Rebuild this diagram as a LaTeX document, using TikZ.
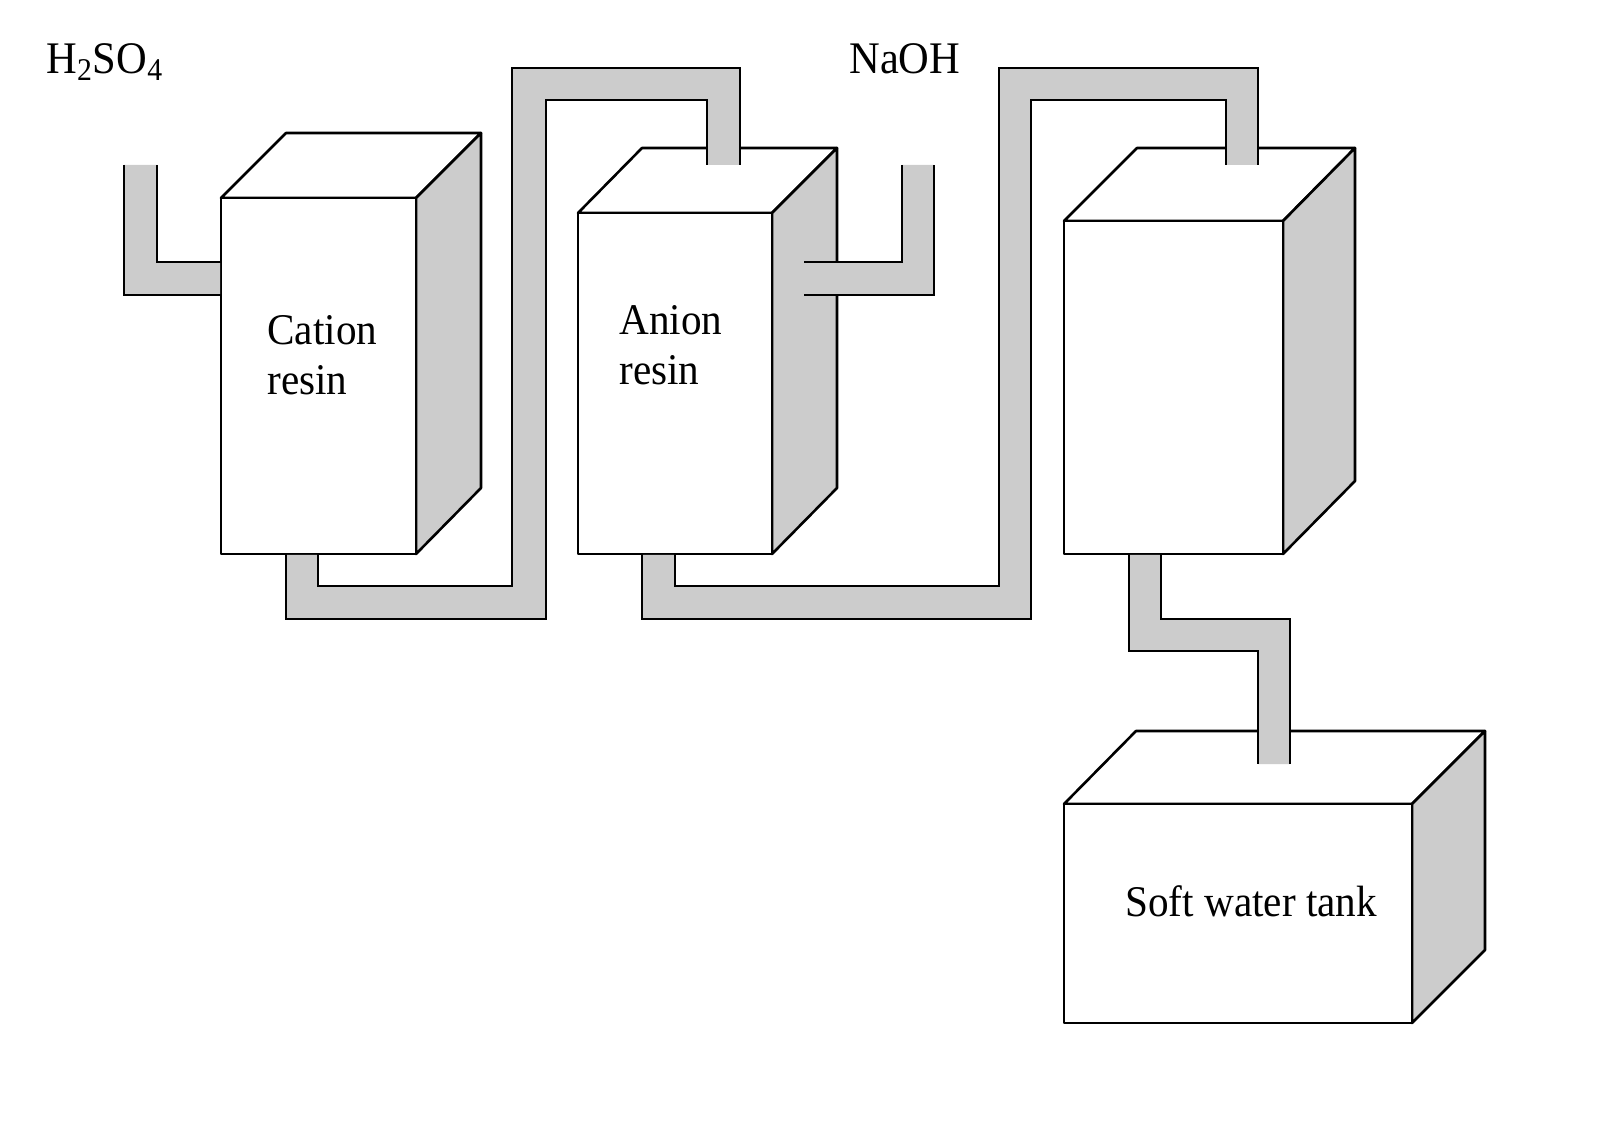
\documentclass[tikz,border=0pt]{standalone}
\usepackage{fontspec}
\setmainfont[FakeStretch=0.94]{Liberation Serif}
\usepackage{xcolor}
\definecolor{pipegrey}{HTML}{CCCCCC}

\begin{document}
\begin{tikzpicture}[
    x=0.5pt, y=-0.5pt,
    pipefill/.style={fill=pipegrey, draw=none},
    pipeedge/.style={draw=black, line width=1.3pt, line join=miter},
    boxface/.style={draw=black, line width=1.3pt, line join=round},
    chemlabel/.style={font=\fontsize{22.6pt}{25pt}\selectfont},
    every node/.style={inner sep=0pt, anchor=base west, font=\fontsize{21.9pt}{25pt}\selectfont}]
\useasboundingbox (0,0) rectangle (1600,1133);

% left, right, top, bottom of the front, then left, right, top, bottom of the back
\foreach \l/\r/\t/\b/\bl/\br/\bt/\bb in {
    221/416/198/554/286/481/133/488,
    578/772/213/554/642/837/148/488,
    1064/1283/221/554/1137/1355/148/481,
    1064/1412/804/1023/1136/1485/731/950} {
  \filldraw[boxface, fill=white] (\l,\t) -- (\bl,\bt) -- (\br,\bt) -- (\r,\t) -- cycle;
  \filldraw[boxface, fill=pipegrey] (\r,\t) -- (\br,\bt) -- (\br,\bb) -- (\r,\b) -- cycle;
  \filldraw[boxface, fill=white] (\l,\t) rectangle (\r,\b);
}

% acid feed
\fill[pipefill] (124,165) -- (157,165) -- (157,262) -- (220,262) -- (220,295) -- (124,295) -- cycle;
\draw[pipeedge] (124,165) -- (124,295) -- (221,295);
\draw[pipeedge] (157,165) -- (157,262) -- (221,262);

% cation to anion
\fill[pipefill] (286,555) -- (318,555) -- (318,586) -- (512,586) -- (512,68) -- (740,68) -- (740,165)
    -- (707,165) -- (707,100) -- (546,100) -- (546,619) -- (286,619) -- cycle;
\draw[pipeedge] (286,554) -- (286,619) -- (546,619) -- (546,100) -- (707,100) -- (707,165);
\draw[pipeedge] (318,554) -- (318,586) -- (512,586) -- (512,68) -- (740,68) -- (740,165);

% base feed
\fill[pipefill] (804,262) -- (902,262) -- (902,165) -- (934,165) -- (934,295) -- (804,295) -- cycle;
\draw[pipeedge] (804,262) -- (902,262) -- (902,165);
\draw[pipeedge] (804,295) -- (934,295) -- (934,165);

% anion to third column
\fill[pipefill] (642,555) -- (675,555) -- (675,586) -- (999,586) -- (999,68) -- (1258,68) -- (1258,165)
    -- (1226,165) -- (1226,100) -- (1031,100) -- (1031,619) -- (642,619) -- cycle;
\draw[pipeedge] (642,554) -- (642,619) -- (1031,619) -- (1031,100) -- (1226,100) -- (1226,165);
\draw[pipeedge] (675,554) -- (675,586) -- (999,586) -- (999,68) -- (1258,68) -- (1258,165);

% third column to tank
\fill[pipefill] (1129,555) -- (1161,555) -- (1161,619) -- (1290,619) -- (1290,764) -- (1258,764)
    -- (1258,651) -- (1129,651) -- cycle;
\draw[pipeedge] (1129,554) -- (1129,651) -- (1258,651) -- (1258,764);
\draw[pipeedge] (1161,554) -- (1161,619) -- (1290,619) -- (1290,764);

\node[chemlabel] (acid) at (46,74) {H\textsubscript{2}SO\textsubscript{4}};
\node[chemlabel] (base) at (849,74) {NaOH};
\node (cation) at (267,345) {Cation};
\node (cationb) at (267,395) {resin};
\node (anion) at (619,335) {Anion};
\node (anionb) at (619,385) {resin};
\node (tank) at (1125,916) {Soft water tank};
\end{tikzpicture}
\end{document}
